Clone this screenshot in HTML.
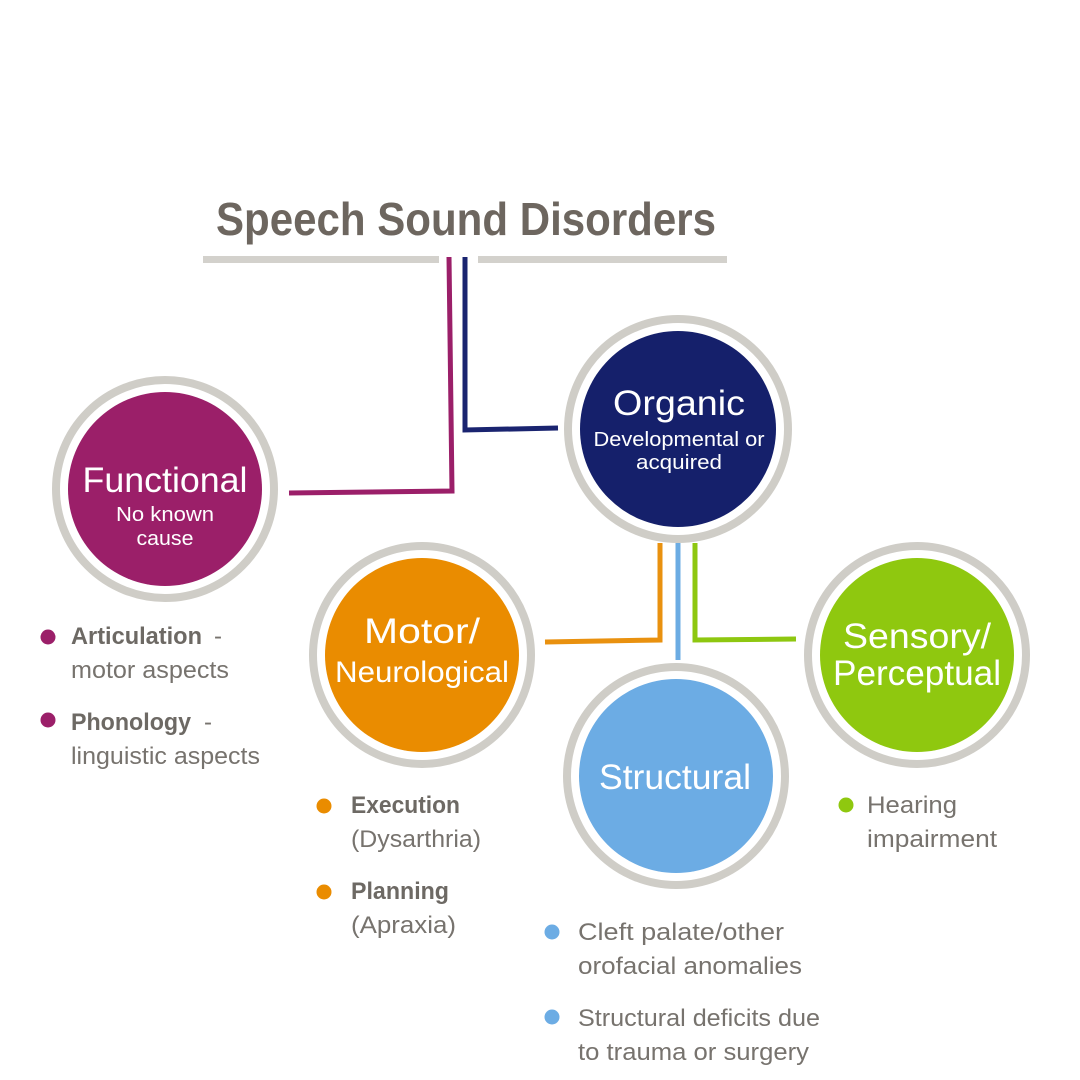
<!DOCTYPE html>
<html><head><meta charset="utf-8"><style>
html,body{margin:0;padding:0;background:#fff}
svg{display:block}
text{font-family:"Liberation Sans",sans-serif}
.c{fill:#fff;text-anchor:middle}
.t{fill:#77736e;font-size:24px}
.b{fill:#6d6964;font-size:24px;font-weight:bold}
</style></head><body>
<svg width="1080" height="1080" viewBox="0 0 1080 1080" xmlns="http://www.w3.org/2000/svg">
<rect width="1080" height="1080" fill="#fff"/>
<text x="216" y="235" font-size="46" font-weight="bold" fill="#6d665f" textLength="500" lengthAdjust="spacingAndGlyphs">Speech Sound Disorders</text>
<rect x="203" y="256" width="236" height="7" fill="#d3d1cc"/>
<rect x="478" y="256" width="249" height="7" fill="#d3d1cc"/>
<g fill="none" stroke-width="5">
<path d="M449 257 L452 491 L289 493" stroke="#9b1f69"/>
<path d="M465 257 V430 L558 428" stroke="#1a2470"/>
<path d="M660 543 V640 L545 642" stroke="#e9910f"/>
<path d="M678 543 V660" stroke="#6cace3"/>
<path d="M695 543 V640 L796 639" stroke="#8ec710"/>
</g>
<g fill="#fff" stroke="#cfcdc7" stroke-width="8">
<circle cx="165" cy="489" r="109"/>
<circle cx="678" cy="429" r="110"/>
<circle cx="422" cy="655" r="109"/>
<circle cx="917" cy="655" r="109"/>
<circle cx="676" cy="776" r="109"/>
</g>
<circle cx="165" cy="489" r="97" fill="#9b1f69"/>
<circle cx="678" cy="429" r="98" fill="#15206b"/>
<circle cx="422" cy="655" r="97" fill="#ea8c00"/>
<circle cx="917" cy="655" r="97" fill="#8fc80f"/>
<circle cx="676" cy="776" r="97" fill="#6cace4"/>
<text class="c" x="165" y="492" font-size="35" textLength="165" lengthAdjust="spacingAndGlyphs">Functional</text>
<text class="c" x="165" y="521" font-size="20" textLength="98" lengthAdjust="spacingAndGlyphs">No known</text>
<text class="c" x="165" y="545" font-size="20" textLength="57" lengthAdjust="spacingAndGlyphs">cause</text>
<text class="c" x="679" y="415" font-size="35" textLength="132" lengthAdjust="spacingAndGlyphs">Organic</text>
<text class="c" x="679" y="446" font-size="20" textLength="171" lengthAdjust="spacingAndGlyphs">Developmental or</text>
<text class="c" x="679" y="469" font-size="20" textLength="86" lengthAdjust="spacingAndGlyphs">acquired</text>
<text class="c" x="422" y="643" font-size="35" textLength="116" lengthAdjust="spacingAndGlyphs">Motor/</text>
<text class="c" x="422" y="682" font-size="30" textLength="174" lengthAdjust="spacingAndGlyphs">Neurological</text>
<text class="c" x="917" y="648" font-size="35" textLength="148" lengthAdjust="spacingAndGlyphs">Sensory/</text>
<text class="c" x="917" y="685" font-size="35" textLength="168" lengthAdjust="spacingAndGlyphs">Perceptual</text>
<text class="c" x="675" y="789" font-size="35" textLength="152" lengthAdjust="spacingAndGlyphs">Structural</text>
<g fill="#9b1f69"><circle cx="48" cy="637" r="7.5"/><circle cx="48" cy="720" r="7.5"/></g>
<g fill="#ea8c00"><circle cx="324" cy="806" r="7.5"/><circle cx="324" cy="892" r="7.5"/></g>
<g fill="#6cace4"><circle cx="552" cy="932" r="7.5"/><circle cx="552" cy="1017" r="7.5"/></g>
<circle cx="846" cy="805" r="7.5" fill="#8fc80f"/>
<text class="b" x="71" y="644" textLength="131" lengthAdjust="spacingAndGlyphs">Articulation</text>
<text class="t" x="214" y="644">-</text>
<text class="t" x="71" y="678" textLength="158" lengthAdjust="spacingAndGlyphs">motor aspects</text>
<text class="b" x="71" y="730" textLength="120" lengthAdjust="spacingAndGlyphs">Phonology</text>
<text class="t" x="204" y="730">-</text>
<text class="t" x="71" y="764" textLength="189" lengthAdjust="spacingAndGlyphs">linguistic aspects</text>
<text class="b" x="351" y="813" textLength="109" lengthAdjust="spacingAndGlyphs">Execution</text>
<text class="t" x="351" y="847" textLength="130" lengthAdjust="spacingAndGlyphs">(Dysarthria)</text>
<text class="b" x="351" y="899" textLength="98" lengthAdjust="spacingAndGlyphs">Planning</text>
<text class="t" x="351" y="933" textLength="105" lengthAdjust="spacingAndGlyphs">(Apraxia)</text>
<text class="t" x="867" y="813" textLength="90" lengthAdjust="spacingAndGlyphs">Hearing</text>
<text class="t" x="867" y="847" textLength="130" lengthAdjust="spacingAndGlyphs">impairment</text>
<text class="t" x="578" y="940" textLength="206" lengthAdjust="spacingAndGlyphs">Cleft palate/other</text>
<text class="t" x="578" y="974" textLength="224" lengthAdjust="spacingAndGlyphs">orofacial anomalies</text>
<text class="t" x="578" y="1026" textLength="242" lengthAdjust="spacingAndGlyphs">Structural deficits due</text>
<text class="t" x="578" y="1060" textLength="231" lengthAdjust="spacingAndGlyphs">to trauma or surgery</text>
</svg>
</body></html>
